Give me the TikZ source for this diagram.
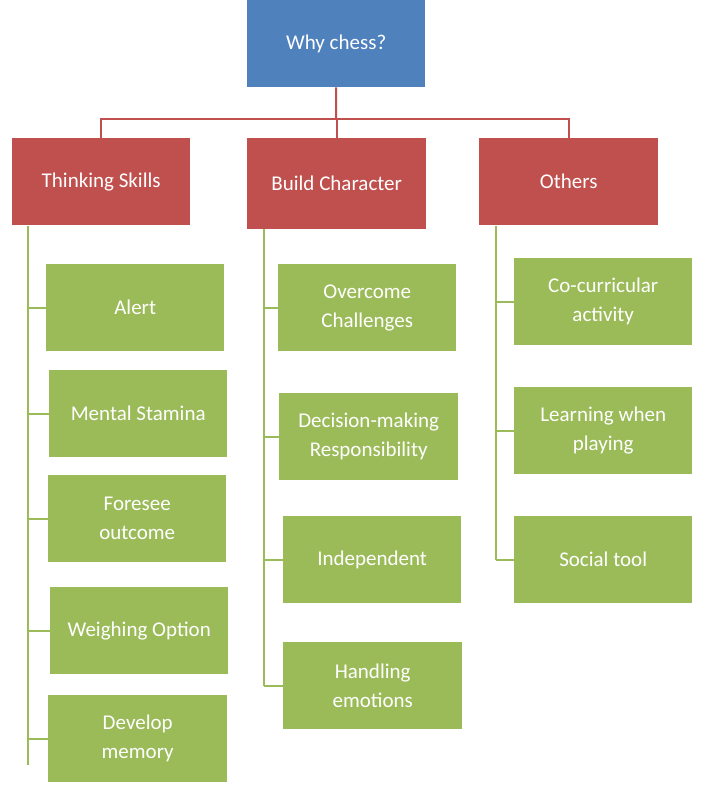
\documentclass[tikz,border=0pt]{standalone}
\usepackage{fontspec}
\setmainfont{Carlito}
\definecolor{cblue}{HTML}{4F81BD}
\definecolor{cred}{HTML}{C0504D}
\definecolor{cgreen}{HTML}{9BBB59}
\begin{document}
\begin{tikzpicture}[x=1pt,y=-1pt,
 box/.style={draw=none,inner sep=0pt,text=white,font=\fontsize{21}{29}\selectfont,align=center,minimum width=178pt,minimum height=87pt,anchor=north west},
 bl/.style={box,fill=cblue},
 rd/.style={box,fill=cred},
 gr/.style={box,fill=cgreen},
 rl/.style={draw=cred,line width=2pt},
 gl/.style={draw=cgreen,line width=2pt}]
\useasboundingbox (0,0) rectangle (710,800);
\node[bl] (why) at (247,0) {Why chess?};
\node[rd] (ts) at (12,138) {Thinking Skills};
\node[rd,minimum width=179pt,minimum height=91pt] (bc) at (247,138) {Build Character};
\node[rd,minimum width=179pt] (ot) at (479,138) {Others};
\coordinate (j) at (336,119);
\draw[rl] (why.south) -- (j);
\draw[rl] (ts.north) |- (j) -| (ot.north);
\draw[rl] (j) -| (bc.north);
% Thinking
\node[gr] (a1) at (46,264) {Alert};
\node[gr] (a2) at (49,370) {Mental Stamina};
\node[gr] (a3) at (48,475) {Foresee\\outcome};
\node[gr] (a4) at (50,587) {Weighing Option};
\node[gr,minimum width=179pt] (a5) at (48,695) {Develop\\memory};
\coordinate (tsb) at (28,226);
\coordinate (tse) at (28,765);
\draw[gl] (tsb) -- (tse);
\foreach \n in {a1,a2,a3,a4,a5} \draw[gl] (\n.west -| tsb) -- (\n.west);
% Build
\node[gr] (b1) at (278,264) {Overcome\\Challenges};
\node[gr,minimum width=179pt] (b2) at (279,393) {Decision-making\\Responsibility};
\node[gr] (b3) at (283,516) {Independent};
\node[gr,minimum width=179pt] (b4) at (283,642) {Handling\\emotions};
\coordinate (bcb) at (264,229);
\coordinate (bce) at (264,686);
\draw[gl] (bcb) -- (bce);
\foreach \n in {b1,b2,b3,b4} \draw[gl] (\n.west -| bcb) -- (\n.west);
% Others
\node[gr] (c1) at (514,258) {Co-curricular\\activity};
\node[gr] (c2) at (514,387) {Learning when\\playing};
\node[gr] (c3) at (514,516) {Social tool};
\coordinate (otb) at (496,226);
\coordinate (ote) at (496,560);
\draw[gl] (otb) -- (ote);
\foreach \n in {c1,c2,c3} \draw[gl] (\n.west -| otb) -- (\n.west);
\end{tikzpicture}
\end{document}
